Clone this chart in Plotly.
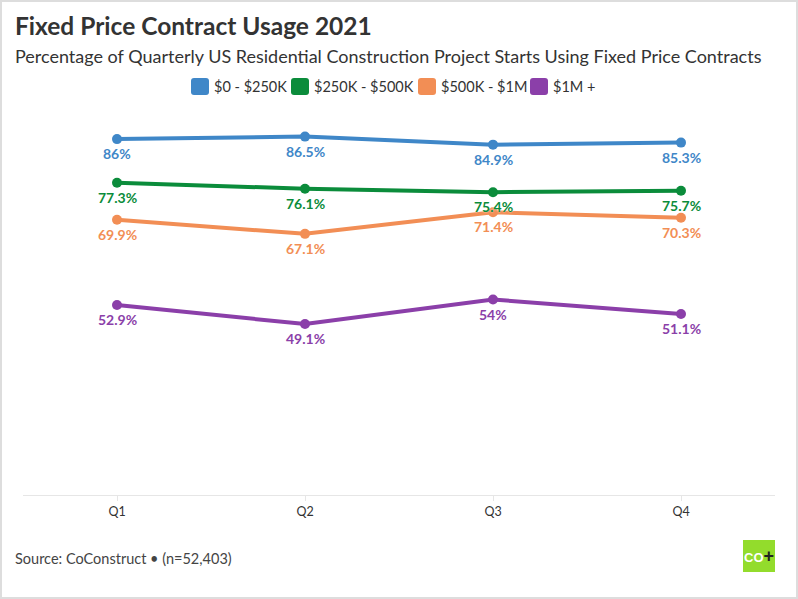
import plotly.graph_objects as go

quarters = ["Q1", "Q2", "Q3", "Q4"]
series_names = ["$0 - $250K", "$250K - $500K", "$500K - $1M", "$1M +"]
values_0_250k = [86.0, 86.5, 84.9, 85.3]
values_250k_500k = [77.3, 76.1, 75.4, 75.7]
values_500k_1m = [69.9, 67.1, 71.4, 70.3]
values_1m_plus = [52.9, 49.1, 54.0, 51.1]
colors = ["#3f87c8", "#0b8c3b", "#f28e55", "#8b3fa9"]

all_values = [values_0_250k, values_250k_500k, values_500k_1m, values_1m_plus]

FONT = "Lato"
PW, PH = 752, 401
L, T = 23, 94


def px_x(x):
    return (x - L) / PW


def px_y(y):
    return 1 - (y - T) / PH


def rounded_rect(x0, y0, x1, y1, r):
    def P(x, y):
        return f"{px_x(x)},{px_y(y)}"
    return (f"M {P(x0 + r, y0)} L {P(x1 - r, y0)} Q {P(x1, y0)} {P(x1, y0 + r)} "
            f"L {P(x1, y1 - r)} Q {P(x1, y1)} {P(x1 - r, y1)} "
            f"L {P(x0 + r, y1)} Q {P(x0, y1)} {P(x0, y1 - r)} "
            f"L {P(x0, y0 + r)} Q {P(x0, y0)} {P(x0 + r, y0)} Z")


fig = go.Figure()
annotations = []
shapes = []

for name, vals, col in zip(series_names, all_values, colors):
    fig.add_trace(go.Scatter(
        x=quarters, y=vals, mode="lines+markers",
        line=dict(color=col, width=4),
        marker=dict(color=col, size=10),
        showlegend=False, hoverinfo="skip", cliponaxis=False,
    ))
    for q, v in zip(quarters, vals):
        annotations.append(dict(
            x=q, y=v, xref="x", yref="y", text=f"<b>{v:g}%</b>",
            showarrow=False, yshift=-14.5, xanchor="center", yanchor="middle",
            font=dict(family=FONT, size=14, color=col,
                      shadow="0px 0px 2px white")))

# custom legend (tight spacing like the reference)
legend_x = [191, 291, 418, 530]
for name, col, lx in zip(series_names, colors, legend_x):
    shapes.append(dict(type="path", xref="paper", yref="paper",
                       path=rounded_rect(lx, 78, lx + 18, 95, 3),
                       fillcolor=col, line=dict(width=0)))
    annotations.append(dict(text=name, xref="paper", yref="paper",
                            x=px_x(lx + 21), y=px_y(86.5), xanchor="left", yanchor="middle",
                            showarrow=False, font=dict(family=FONT, size=14.5, color="#333333")))

annotations += [
    dict(text="<b>Fixed Price Contract Usage 2021</b>", xref="paper", yref="paper",
         x=px_x(13), y=px_y(26), xanchor="left", yanchor="middle",
         showarrow=False, font=dict(family=FONT, size=24.5, color="#333333")),
    dict(text="Percentage of Quarterly US Residential Construction Project Starts Using Fixed Price Contracts",
         xref="paper", yref="paper",
         x=px_x(13), y=px_y(56), xanchor="left", yanchor="middle",
         showarrow=False, font=dict(family=FONT, size=18, color="#333333")),
    dict(text="Source: CoConstruct • (n=52,403)", xref="paper", yref="paper",
         x=px_x(13), y=px_y(558), xanchor="left", yanchor="middle",
         showarrow=False, font=dict(family=FONT, size=14.5, color="#444444")),
    dict(text="<b>CO</b><span style='color:#222222; font-size:18px'><b>+</b></span>",
         xref="paper", yref="paper",
         x=px_x(759), y=px_y(556), xanchor="center", yanchor="middle",
         showarrow=False, font=dict(family="Liberation Sans", size=13, color="white")),
]

shapes += [
    dict(type="rect", xref="paper", yref="paper",
         x0=px_x(743), x1=px_x(775), y0=px_y(572), y1=px_y(540),
         fillcolor="#93dc2c", line=dict(width=0), layer="below"),
    dict(type="rect", xref="paper", yref="paper",
         x0=px_x(1), x1=px_x(797), y0=px_y(598), y1=px_y(1),
         fillcolor="rgba(0,0,0,0)", line=dict(width=2, color="#dddddd")),
]

fig.update_layout(
    width=798, height=599,
    margin=dict(l=L, r=23, t=T, b=104),
    paper_bgcolor="white", plot_bgcolor="white",
    font=dict(family=FONT, color="#333333"),
    showlegend=False,
    xaxis=dict(type="category", range=[-0.5, 3.5], showgrid=False,
               showline=True, linecolor="#e6e6e6", linewidth=1,
               ticks="outside", ticklen=5, tickcolor="#e6e6e6",
               tickfont=dict(family=FONT, size=12.5, color="#333333"),
               zeroline=False, fixedrange=True),
    yaxis=dict(range=[15, 95], visible=False, showgrid=False, zeroline=False),
    annotations=annotations,
    shapes=shapes,
)

fig.write_html("out.html")
